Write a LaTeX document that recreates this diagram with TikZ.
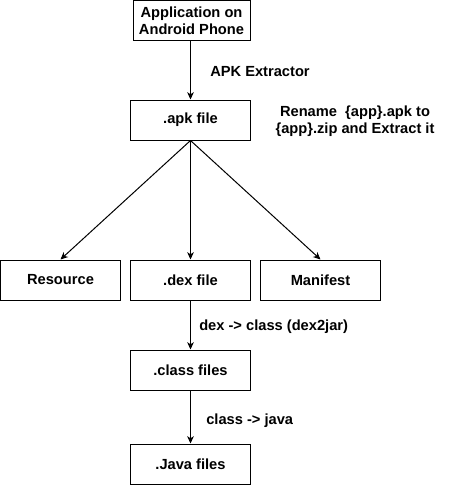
\documentclass[tikz,border=0pt]{standalone}
\usepackage{fontspec}
\setmainfont{Liberation Sans}
\usetikzlibrary{arrows.meta}
\begin{document}
\begin{tikzpicture}[x=0.75pt,y=-0.75pt,
  box/.style={draw=black,line width=0.75pt,fill=white,minimum width=90pt,minimum height=30pt,inner sep=0pt,align=center,
    font=\fontsize{11}{12.75}\selectfont\bfseries},
  lbl/.style={inner sep=0pt,align=center,font=\fontsize{11}{12.75}\selectfont\bfseries},
  conn/.style={line width=0.75pt,-{Stealth[length=5.5pt,width=5pt,inset=1.6pt]}}]
\useasboundingbox[fill=white] (0,0) rectangle (461,485);
\node[box,minimum width=87.75pt] (app) at (191.5,21) {Application on\\Android Phone};
\node[box] (apk) at (190.5,120) {.apk file};
\node[box] (res) at (60.5,280) {Resource};
\node[box] (dex) at (190.5,280) {.dex file};
\node[box] (man) at (320.5,280) {Manifest};
\node[box] (cls) at (190.5,370) {.class files};
\node[box] (jav) at (190.5,464) {.Java files};
\node[lbl,anchor=west] (l1) at (210,72) {APK Extractor};
\node[lbl] (l2) at (355,121.5) {Rename~ \{app\}.apk to\\\{app\}.zip and Extract it};
\node[lbl,anchor=west] (l3) at (199,327) {dex -> class (dex2jar)};
\node[lbl,anchor=west] (l4) at (206,421) {class -> java};
\draw[conn] (app.south -| apk.north) -- (apk.north);
\draw[conn] (apk.south) -- (res.north);
\draw[conn] (apk.south) -- (dex.north);
\draw[conn] (apk.south) -- (man.north);
\draw[conn] (dex.south) -- (cls.north);
\draw[conn] (cls.south) -- (jav.north);
\end{tikzpicture}
\end{document}
